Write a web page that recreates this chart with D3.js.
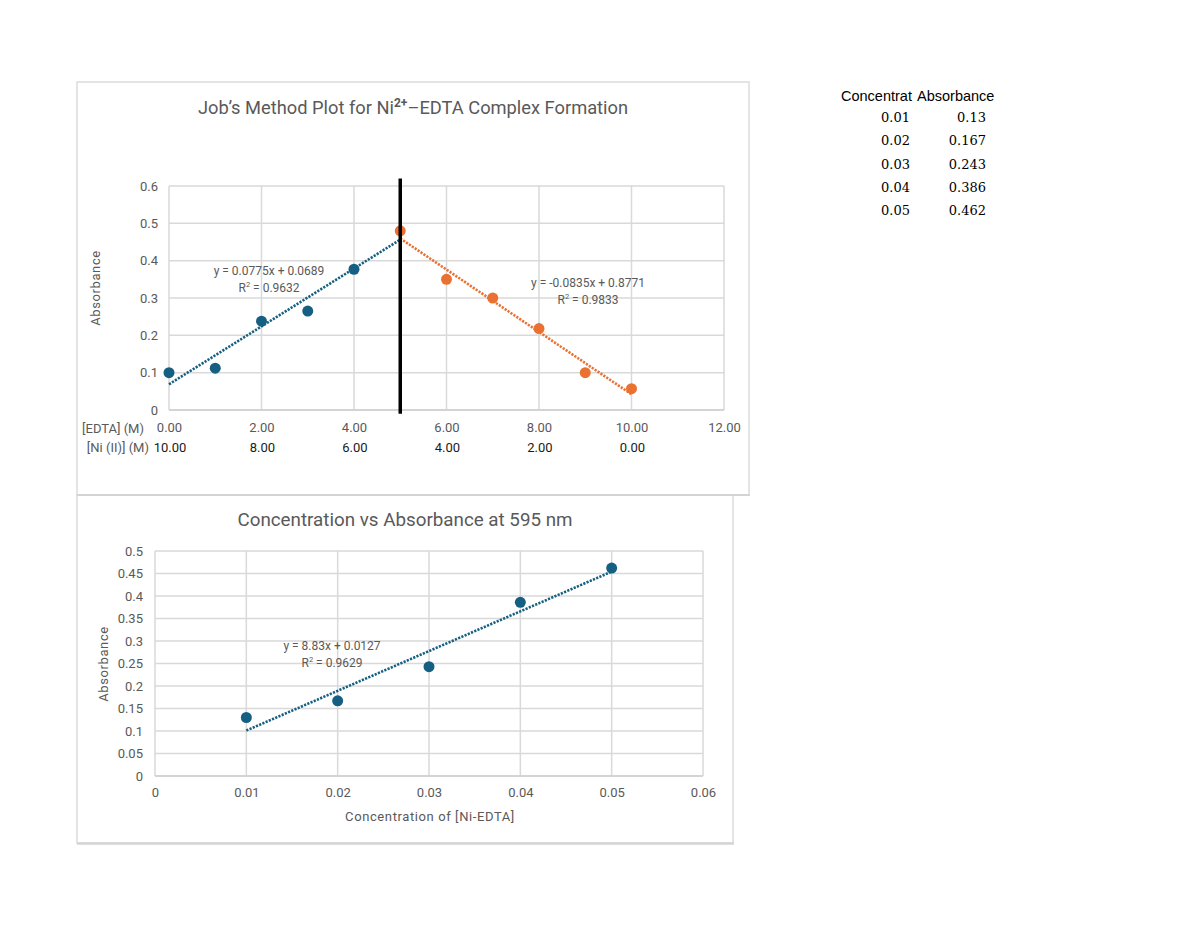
<!DOCTYPE html>
<html>
<head>
<meta charset="utf-8">
<script src="https://cdn.jsdelivr.net/npm/d3@7"></script>
<style>
  body { margin: 0; background: #fff; }
</style>
</head>
<body>
<svg width="1200" height="927" font-family="Roboto, 'Liberation Sans', sans-serif"></svg>
<script>
// --- Job's method data ---
const edta = [0, 1, 2, 3, 4];
const absLeft = [0.1, 0.112, 0.238, 0.265, 0.377];
const edtaRight = [5, 6, 7, 8, 9, 10];
const absRight = [0.48, 0.35, 0.30, 0.218, 0.10, 0.057];
const jobXTicks = [0, 2, 4, 6, 8, 10, 12];
const niTicks = [0, 2, 4, 6, 8, 10];
const niLabels = ["10.00", "8.00", "6.00", "4.00", "2.00", "0.00"];
const jobYTicks = [0, 0.1, 0.2, 0.3, 0.4, 0.5, 0.6];
const leftTrend = { m: 0.0775, b: 0.0689, x0: 0, x1: 5, eq: "y = 0.0775x + 0.0689", r2: "0.9632" };
const rightTrend = { m: -0.0835, b: 0.8771, x0: 5, x1: 10, eq: "y = -0.0835x + 0.8771", r2: "0.9833" };
const equivLine = { x: 5, y0: -0.01, y1: 0.62 };

// --- calibration data ---
const conc = [0.01, 0.02, 0.03, 0.04, 0.05];
const absCal = [0.13, 0.167, 0.243, 0.386, 0.462];
const calXTicks = [0, 0.01, 0.02, 0.03, 0.04, 0.05, 0.06];
const calYTicks = [0, 0.05, 0.1, 0.15, 0.2, 0.25, 0.3, 0.35, 0.4, 0.45, 0.5];
const calTrend = { m: 8.83, b: 0.0127, x0: 0.01, x1: 0.05, eq: "y = 8.83x + 0.0127", r2: "0.9629" };

const blue = "#156082";
const orange = "#E97132";
const grid = "#d9d9d9";
const txt = "#595959";

const svg = d3.select("svg");
svg.append("rect").attr("width", 1200).attr("height", 927).attr("fill", "#fff");

// frames
svg.append("rect").attr("x", 77).attr("y", 495).attr("width", 656).attr("height", 348)
  .attr("fill", "none").attr("stroke", "#dcdcdc").attr("stroke-width", 1.5);
svg.append("line").attr("x1", 77).attr("x2", 734).attr("y1", 843.5).attr("y2", 843.5)
  .attr("stroke", "#d4d4d4").attr("stroke-width", 2.5);
svg.append("rect").attr("x", 77).attr("y", 82).attr("width", 672).attr("height", 413)
  .attr("fill", "none").attr("stroke", "#dcdcdc").attr("stroke-width", 1.5);
svg.append("line").attr("x1", 77).attr("x2", 750).attr("y1", 495).attr("y2", 495)
  .attr("stroke", "#d4d4d4").attr("stroke-width", 2);

function fmt(d) { return String(+d.toFixed(3)); }

function drawGrid(g, x, y, xt, yt) {
  const [l, r] = x.range(), [b, t] = y.range();
  g.selectAll(".hg").data(yt).join("line")
    .attr("x1", l).attr("x2", r).attr("y1", d => y(d)).attr("y2", d => y(d))
    .attr("stroke", grid).attr("stroke-width", 1.5);
  g.selectAll(".vg").data(xt).join("line")
    .attr("class", "vg")
    .attr("y1", b).attr("y2", t).attr("x1", d => x(d)).attr("x2", d => x(d))
    .attr("stroke", grid).attr("stroke-width", 1.5);
  g.append("line").attr("x1", l).attr("x2", r).attr("y1", b).attr("y2", b)
    .attr("stroke", "#cfcfcf").attr("stroke-width", 1.5);
}

function drawTrend(g, x, y, t, color) {
  g.append("line")
    .attr("x1", x(t.x0)).attr("y1", y(t.m * t.x0 + t.b))
    .attr("x2", x(t.x1)).attr("y2", y(t.m * t.x1 + t.b))
    .attr("stroke", color).attr("stroke-width", 2.6)
    .attr("stroke-dasharray", "2.2,1.3");
}

function trendLabel(g, cx, cy, t) {
  const lab = g.append("g").attr("fill", txt).attr("font-size", 12).attr("text-anchor", "middle");
  lab.append("text").attr("x", cx).attr("y", cy).text(t.eq);
  const r = lab.append("text").attr("x", cx).attr("y", cy + 16.5);
  r.append("tspan").text("R");
  r.append("tspan").attr("dy", -5).attr("font-size", 7.5).text("2");
  r.append("tspan").attr("dy", 5).text(" = " + t.r2);
}

function dots(g, x, y, xs, ys, color) {
  g.selectAll(null).data(xs).join("circle")
    .attr("cx", d => x(d)).attr("cy", (d, i) => y(ys[i]))
    .attr("r", 5.5).attr("fill", color);
}

function styleTicks(a) {
  a.select(".domain").remove();
  a.attr("font-family", null);
  a.selectAll("text").attr("font-size", 13).attr("fill", txt);
}

// ---------------- Job's method chart ----------------
const x1 = d3.scaleLinear().domain([0, 12]).range([169, 724]);
const y1 = d3.scaleLinear().domain([0, 0.6]).range([410, 186]);
const g1 = svg.append("g");

const t1 = g1.append("text").attr("x", 413).attr("y", 114).attr("text-anchor", "middle")
  .attr("font-size", 18.3).attr("fill", txt);
t1.append("tspan").text("Job’s Method Plot for Ni");
t1.append("tspan").attr("dy", -7).attr("font-size", 12).attr("font-weight", 700).text("2+");
t1.append("tspan").attr("dy", 7).text("–EDTA Complex Formation");

drawGrid(g1, x1, y1, jobXTicks, jobYTicks);

g1.append("g").attr("transform", "translate(169,0)")
  .call(d3.axisLeft(y1).tickValues(jobYTicks).tickSize(0).tickPadding(11).tickFormat(fmt))
  .call(styleTicks);

g1.append("g").attr("transform", "translate(0,410)")
  .call(d3.axisBottom(x1).tickValues(jobXTicks).tickSize(0).tickPadding(13).tickFormat(d3.format(".2f")))
  .call(styleTicks);

g1.append("g").selectAll("text").data(niTicks).join("text")
  .attr("x", d => x1(d) + 1).attr("y", 452).attr("text-anchor", "middle")
  .attr("font-size", 13).attr("fill", "#1a1a1a")
  .text((d, i) => niLabels[i]);

g1.append("text").attr("x", 144).attr("y", 433).attr("text-anchor", "end")
  .attr("font-size", 13).attr("fill", txt).text("[EDTA] (M)");
g1.append("text").attr("x", 149).attr("y", 452).attr("text-anchor", "end")
  .attr("font-size", 13).attr("fill", txt).text("[Ni (II)] (M)");

g1.append("text").attr("transform", "translate(100,288) rotate(-90)").attr("text-anchor", "middle")
  .attr("font-size", 13).attr("letter-spacing", 0.6).attr("fill", txt).text("Absorbance");

drawTrend(g1, x1, y1, leftTrend, blue);
drawTrend(g1, x1, y1, rightTrend, orange);
dots(g1, x1, y1, edta, absLeft, blue);
dots(g1, x1, y1, edtaRight, absRight, orange);

g1.append("line")
  .attr("x1", x1(equivLine.x)).attr("x2", x1(equivLine.x))
  .attr("y1", y1(equivLine.y1)).attr("y2", y1(equivLine.y0))
  .attr("stroke", "#000").attr("stroke-width", 3.5);

trendLabel(g1, 269, 275, leftTrend);
trendLabel(g1, 588, 287, rightTrend);

// ---------------- calibration chart ----------------
const x2 = d3.scaleLinear().domain([0, 0.06]).range([155, 703]);
const y2 = d3.scaleLinear().domain([0, 0.5]).range([776, 551]);
const g2 = svg.append("g");

g2.append("text").attr("x", 405).attr("y", 526).attr("text-anchor", "middle")
  .attr("font-size", 18.8).attr("fill", txt).text("Concentration vs Absorbance at 595 nm");

drawGrid(g2, x2, y2, calXTicks, calYTicks);

g2.append("g").attr("transform", "translate(155,0)")
  .call(d3.axisLeft(y2).tickValues(calYTicks).tickSize(0).tickPadding(12).tickFormat(fmt))
  .call(styleTicks);

g2.append("g").attr("transform", "translate(0,776)")
  .call(d3.axisBottom(x2).tickValues(calXTicks).tickSize(0).tickPadding(12).tickFormat(fmt))
  .call(styleTicks);

g2.append("text").attr("x", 430).attr("y", 821).attr("text-anchor", "middle")
  .attr("font-size", 13).attr("letter-spacing", 0.6).attr("fill", txt).text("Concentration  of [Ni-EDTA]");
g2.append("text").attr("transform", "translate(108,664) rotate(-90)").attr("text-anchor", "middle")
  .attr("font-size", 13).attr("letter-spacing", 0.6).attr("fill", txt).text("Absorbance");

drawTrend(g2, x2, y2, calTrend, blue);
dots(g2, x2, y2, conc, absCal, blue);
trendLabel(g2, 332, 650, calTrend);

// ---------------- data table ----------------
const tbl = svg.append("g");
tbl.append("text").attr("x", 841).attr("y", 101).attr("font-size", 14.5).attr("fill", "#000")
  .attr("font-family", "'Liberation Sans', Arial, sans-serif").text("Concentrat");
tbl.append("text").attr("x", 917).attr("y", 101).attr("font-size", 14.5).attr("fill", "#000")
  .attr("font-family", "'Liberation Sans', Arial, sans-serif").text("Absorbance");
tbl.selectAll(".c1").data(conc).join("text")
  .attr("x", 910).attr("y", (d, i) => 122 + i * 23.3).attr("text-anchor", "end")
  .attr("font-family", "'DejaVu Serif', serif").attr("font-size", 13).attr("fill", "#000")
  .text(d => d.toFixed(2));
tbl.selectAll(".c2").data(absCal).join("text")
  .attr("x", 986).attr("y", (d, i) => 122 + i * 23.3).attr("text-anchor", "end")
  .attr("font-family", "'DejaVu Serif', serif").attr("font-size", 13).attr("fill", "#000")
  .text(d => String(d));
</script>
</body>
</html>
